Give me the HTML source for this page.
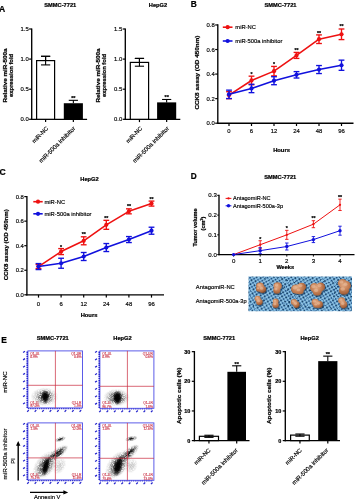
<!DOCTYPE html>
<html lang="en">
<head>
<meta charset="utf-8">
<title>Figure</title>
<style>
html,body{margin:0;padding:0;background:#fff;}
body{width:356px;height:502px;overflow:hidden;}
svg{display:block;font-family:"Liberation Sans",sans-serif;}
</style>
</head>
<body>
<svg width="356" height="502" viewBox="0 0 356 502">
<rect width="356" height="502" fill="#fff"/>
<text x="-0.9" y="11.5" font-size="8.6" text-anchor="start" font-weight="bold" fill="#000" stroke="#000" stroke-width="0.22" >A</text>
<line x1="31.7" y1="28.4" x2="31.7" y2="119.95" stroke="#000" stroke-width="1.35" />
<line x1="31.1" y1="119.3" x2="87.1" y2="119.3" stroke="#000" stroke-width="1.35" />
<line x1="29.1" y1="119.3" x2="31.7" y2="119.3" stroke="#000" stroke-width="1.2" />
<text x="28.7" y="121.35" font-size="5.9" text-anchor="end" font-weight="normal" fill="#000" stroke="#000" stroke-width="0.16" >0.0</text>
<line x1="29.1" y1="89.2" x2="31.7" y2="89.2" stroke="#000" stroke-width="1.2" />
<text x="28.7" y="91.25" font-size="5.9" text-anchor="end" font-weight="normal" fill="#000" stroke="#000" stroke-width="0.16" >0.5</text>
<line x1="29.1" y1="59.1" x2="31.7" y2="59.1" stroke="#000" stroke-width="1.2" />
<text x="28.7" y="61.15" font-size="5.9" text-anchor="end" font-weight="normal" fill="#000" stroke="#000" stroke-width="0.16" >1.0</text>
<line x1="29.1" y1="29" x2="31.7" y2="29" stroke="#000" stroke-width="1.2" />
<text x="28.7" y="31.05" font-size="5.9" text-anchor="end" font-weight="normal" fill="#000" stroke="#000" stroke-width="0.16" >1.5</text>
<line x1="45.6" y1="56.3" x2="45.6" y2="64.91" stroke="#000" stroke-width="1.1" />
<line x1="41" y1="56.3" x2="50.2" y2="56.3" stroke="#000" stroke-width="1.1" />
<line x1="41" y1="64.91" x2="50.2" y2="64.91" stroke="#000" stroke-width="1.1" />
<rect x="36.6" y="60.6" width="18" height="58.7" fill="#fff" stroke="#000" stroke-width="1.2"/>
<line x1="45.6" y1="56.3" x2="45.6" y2="64.91" stroke="#000" stroke-width="1.1" />
<line x1="41" y1="56.3" x2="50.2" y2="56.3" stroke="#000" stroke-width="1.1" />
<line x1="41" y1="64.91" x2="50.2" y2="64.91" stroke="#000" stroke-width="1.1" />
<line x1="45.6" y1="119.3" x2="45.6" y2="122.1" stroke="#000" stroke-width="1.2" />
<line x1="73.35" y1="100.33" x2="73.35" y2="103.23" stroke="#000" stroke-width="1.1" />
<line x1="68.75" y1="100.33" x2="77.95" y2="100.33" stroke="#000" stroke-width="1.1" />
<rect x="63.8" y="103.23" width="19.1" height="16.07" fill="#000"/>
<line x1="73.35" y1="119.3" x2="73.35" y2="122.1" stroke="#000" stroke-width="1.2" />
<text x="73.35" y="100.13" font-size="5.5" text-anchor="middle" font-weight="bold" fill="#000" stroke="#000" stroke-width="0.22" >**</text>
<text x="60.3" y="7.3" font-size="5.7" text-anchor="middle" font-weight="bold" fill="#000" stroke="#000" stroke-width="0.22" >SMMC-7721</text>
<text x="6.6" y="75.5" font-size="5.7" text-anchor="middle" font-weight="bold" fill="#000" stroke="#000" stroke-width="0.22" transform="rotate(-90 6.6 75.5)" textLength="54.2" lengthAdjust="spacingAndGlyphs">Relative miR-500a</text>
<text x="12.9" y="75.5" font-size="5.7" text-anchor="middle" font-weight="bold" fill="#000" stroke="#000" stroke-width="0.22" transform="rotate(-90 12.9 75.5)" textLength="43.2" lengthAdjust="spacingAndGlyphs">expression fold</text>
<text x="48.8" y="128.9" font-size="5.8" text-anchor="end" font-weight="normal" fill="#000" stroke="#000" stroke-width="0.16" transform="rotate(-45 48.8 128.9)" >miR-NC</text>
<text x="75.7" y="128.9" font-size="6" text-anchor="end" font-weight="normal" fill="#000" stroke="#000" stroke-width="0.16" transform="rotate(-45 75.7 128.9)" >miR-500a inhibitor</text>
<line x1="125.3" y1="28.4" x2="125.3" y2="119.95" stroke="#000" stroke-width="1.35" />
<line x1="124.7" y1="119.3" x2="180.3" y2="119.3" stroke="#000" stroke-width="1.35" />
<line x1="122.7" y1="119.3" x2="125.3" y2="119.3" stroke="#000" stroke-width="1.2" />
<text x="122.3" y="121.35" font-size="5.9" text-anchor="end" font-weight="normal" fill="#000" stroke="#000" stroke-width="0.16" >0.0</text>
<line x1="122.7" y1="89.2" x2="125.3" y2="89.2" stroke="#000" stroke-width="1.2" />
<text x="122.3" y="91.25" font-size="5.9" text-anchor="end" font-weight="normal" fill="#000" stroke="#000" stroke-width="0.16" >0.5</text>
<line x1="122.7" y1="59.1" x2="125.3" y2="59.1" stroke="#000" stroke-width="1.2" />
<text x="122.3" y="61.15" font-size="5.9" text-anchor="end" font-weight="normal" fill="#000" stroke="#000" stroke-width="0.16" >1.0</text>
<line x1="122.7" y1="29" x2="125.3" y2="29" stroke="#000" stroke-width="1.2" />
<text x="122.3" y="31.05" font-size="5.9" text-anchor="end" font-weight="normal" fill="#000" stroke="#000" stroke-width="0.16" >1.5</text>
<line x1="139.45" y1="58.41" x2="139.45" y2="66.21" stroke="#000" stroke-width="1.1" />
<line x1="134.85" y1="58.41" x2="144.05" y2="58.41" stroke="#000" stroke-width="1.1" />
<line x1="134.85" y1="66.21" x2="144.05" y2="66.21" stroke="#000" stroke-width="1.1" />
<rect x="130.3" y="62.41" width="18.3" height="56.89" fill="#fff" stroke="#000" stroke-width="1.2"/>
<line x1="139.45" y1="58.41" x2="139.45" y2="66.21" stroke="#000" stroke-width="1.1" />
<line x1="134.85" y1="58.41" x2="144.05" y2="58.41" stroke="#000" stroke-width="1.1" />
<line x1="134.85" y1="66.21" x2="144.05" y2="66.21" stroke="#000" stroke-width="1.1" />
<line x1="139.45" y1="119.3" x2="139.45" y2="122.1" stroke="#000" stroke-width="1.2" />
<line x1="166.65" y1="99.48" x2="166.65" y2="102.38" stroke="#000" stroke-width="1.1" />
<line x1="162.05" y1="99.48" x2="171.25" y2="99.48" stroke="#000" stroke-width="1.1" />
<rect x="157.1" y="102.38" width="19.1" height="16.92" fill="#000"/>
<line x1="166.65" y1="119.3" x2="166.65" y2="122.1" stroke="#000" stroke-width="1.2" />
<text x="166.65" y="99.28" font-size="5.5" text-anchor="middle" font-weight="bold" fill="#000" stroke="#000" stroke-width="0.22" >**</text>
<text x="158" y="7.3" font-size="5.7" text-anchor="middle" font-weight="bold" fill="#000" stroke="#000" stroke-width="0.22" >HepG2</text>
<text x="99.8" y="75.5" font-size="5.7" text-anchor="middle" font-weight="bold" fill="#000" stroke="#000" stroke-width="0.22" transform="rotate(-90 99.8 75.5)" textLength="54.2" lengthAdjust="spacingAndGlyphs">Relative miR-500a</text>
<text x="106" y="75.5" font-size="5.7" text-anchor="middle" font-weight="bold" fill="#000" stroke="#000" stroke-width="0.22" transform="rotate(-90 106 75.5)" textLength="43.2" lengthAdjust="spacingAndGlyphs">expression fold</text>
<text x="142.8" y="128.9" font-size="5.8" text-anchor="end" font-weight="normal" fill="#000" stroke="#000" stroke-width="0.16" transform="rotate(-45 142.8 128.9)" >miR-NC</text>
<text x="169.5" y="128.9" font-size="6" text-anchor="end" font-weight="normal" fill="#000" stroke="#000" stroke-width="0.16" transform="rotate(-45 169.5 128.9)" >miR-500a inhibitor</text>
<text x="190.8" y="7.2" font-size="8.4" text-anchor="start" font-weight="bold" fill="#000" stroke="#000" stroke-width="0.22" >B</text>
<line x1="217.8" y1="24.36" x2="217.8" y2="123.85" stroke="#000" stroke-width="1.35" />
<line x1="217.2" y1="123.2" x2="353.5" y2="123.2" stroke="#000" stroke-width="1.35" />
<line x1="215.2" y1="123.2" x2="217.8" y2="123.2" stroke="#000" stroke-width="1.2" />
<text x="214.8" y="125.3" font-size="5.9" text-anchor="end" font-weight="normal" fill="#000" stroke="#000" stroke-width="0.16" >0.0</text>
<line x1="215.2" y1="98.64" x2="217.8" y2="98.64" stroke="#000" stroke-width="1.2" />
<text x="214.8" y="100.74" font-size="5.9" text-anchor="end" font-weight="normal" fill="#000" stroke="#000" stroke-width="0.16" >0.2</text>
<line x1="215.2" y1="74.08" x2="217.8" y2="74.08" stroke="#000" stroke-width="1.2" />
<text x="214.8" y="76.18" font-size="5.9" text-anchor="end" font-weight="normal" fill="#000" stroke="#000" stroke-width="0.16" >0.4</text>
<line x1="215.2" y1="49.52" x2="217.8" y2="49.52" stroke="#000" stroke-width="1.2" />
<text x="214.8" y="51.62" font-size="5.9" text-anchor="end" font-weight="normal" fill="#000" stroke="#000" stroke-width="0.16" >0.6</text>
<line x1="215.2" y1="24.96" x2="217.8" y2="24.96" stroke="#000" stroke-width="1.2" />
<text x="214.8" y="27.06" font-size="5.9" text-anchor="end" font-weight="normal" fill="#000" stroke="#000" stroke-width="0.16" >0.8</text>
<line x1="229" y1="123.2" x2="229" y2="126" stroke="#000" stroke-width="1.2" />
<text x="229" y="132.6" font-size="5.9" text-anchor="middle" font-weight="normal" fill="#000" stroke="#000" stroke-width="0.16" >0</text>
<line x1="251.5" y1="123.2" x2="251.5" y2="126" stroke="#000" stroke-width="1.2" />
<text x="251.5" y="132.6" font-size="5.9" text-anchor="middle" font-weight="normal" fill="#000" stroke="#000" stroke-width="0.16" >6</text>
<line x1="274" y1="123.2" x2="274" y2="126" stroke="#000" stroke-width="1.2" />
<text x="274" y="132.6" font-size="5.9" text-anchor="middle" font-weight="normal" fill="#000" stroke="#000" stroke-width="0.16" >12</text>
<line x1="296.5" y1="123.2" x2="296.5" y2="126" stroke="#000" stroke-width="1.2" />
<text x="296.5" y="132.6" font-size="5.9" text-anchor="middle" font-weight="normal" fill="#000" stroke="#000" stroke-width="0.16" >24</text>
<line x1="319" y1="123.2" x2="319" y2="126" stroke="#000" stroke-width="1.2" />
<text x="319" y="132.6" font-size="5.9" text-anchor="middle" font-weight="normal" fill="#000" stroke="#000" stroke-width="0.16" >48</text>
<line x1="341.5" y1="123.2" x2="341.5" y2="126" stroke="#000" stroke-width="1.2" />
<text x="341.5" y="132.6" font-size="5.9" text-anchor="middle" font-weight="normal" fill="#000" stroke="#000" stroke-width="0.16" >96</text>
<line x1="229" y1="91.7" x2="229" y2="98.7" stroke="#ee1111" stroke-width="1.35" />
<line x1="226.1" y1="91.7" x2="231.9" y2="91.7" stroke="#ee1111" stroke-width="1.35" />
<line x1="226.1" y1="98.7" x2="231.9" y2="98.7" stroke="#ee1111" stroke-width="1.35" />
<line x1="251.5" y1="76.17" x2="251.5" y2="84.77" stroke="#ee1111" stroke-width="1.35" />
<line x1="248.6" y1="76.17" x2="254.4" y2="76.17" stroke="#ee1111" stroke-width="1.35" />
<line x1="248.6" y1="84.77" x2="254.4" y2="84.77" stroke="#ee1111" stroke-width="1.35" />
<line x1="274" y1="66.43" x2="274" y2="75.83" stroke="#ee1111" stroke-width="1.35" />
<line x1="271.1" y1="66.43" x2="276.9" y2="66.43" stroke="#ee1111" stroke-width="1.35" />
<line x1="271.1" y1="75.83" x2="276.9" y2="75.83" stroke="#ee1111" stroke-width="1.35" />
<line x1="296.5" y1="52.41" x2="296.5" y2="58.41" stroke="#ee1111" stroke-width="1.35" />
<line x1="293.6" y1="52.41" x2="299.4" y2="52.41" stroke="#ee1111" stroke-width="1.35" />
<line x1="293.6" y1="58.41" x2="299.4" y2="58.41" stroke="#ee1111" stroke-width="1.35" />
<line x1="319" y1="34.9" x2="319" y2="43.5" stroke="#ee1111" stroke-width="1.35" />
<line x1="316.1" y1="34.9" x2="321.9" y2="34.9" stroke="#ee1111" stroke-width="1.35" />
<line x1="316.1" y1="43.5" x2="321.9" y2="43.5" stroke="#ee1111" stroke-width="1.35" />
<line x1="341.5" y1="28.99" x2="341.5" y2="39.59" stroke="#ee1111" stroke-width="1.35" />
<line x1="338.6" y1="28.99" x2="344.4" y2="28.99" stroke="#ee1111" stroke-width="1.35" />
<line x1="338.6" y1="39.59" x2="344.4" y2="39.59" stroke="#ee1111" stroke-width="1.35" />
<polyline points="229,95.2 251.5,80.47 274,71.13 296.5,55.41 319,39.2 341.5,34.29" fill="none" stroke="#ee1111" stroke-width="1.6" stroke-linejoin="round"/>
<circle cx="229" cy="95.2" r="2.1" fill="#ee1111"/>
<circle cx="251.5" cy="80.47" r="2.1" fill="#ee1111"/>
<circle cx="274" cy="71.13" r="2.1" fill="#ee1111"/>
<circle cx="296.5" cy="55.41" r="2.1" fill="#ee1111"/>
<circle cx="319" cy="39.2" r="2.1" fill="#ee1111"/>
<circle cx="341.5" cy="34.29" r="2.1" fill="#ee1111"/>
<line x1="229" y1="90.14" x2="229" y2="98.54" stroke="#1111dd" stroke-width="1.35" />
<line x1="226.1" y1="90.14" x2="231.9" y2="90.14" stroke="#1111dd" stroke-width="1.35" />
<line x1="226.1" y1="98.54" x2="231.9" y2="98.54" stroke="#1111dd" stroke-width="1.35" />
<line x1="251.5" y1="84.25" x2="251.5" y2="92.65" stroke="#1111dd" stroke-width="1.35" />
<line x1="248.6" y1="84.25" x2="254.4" y2="84.25" stroke="#1111dd" stroke-width="1.35" />
<line x1="248.6" y1="92.65" x2="254.4" y2="92.65" stroke="#1111dd" stroke-width="1.35" />
<line x1="274" y1="76.71" x2="274" y2="84.71" stroke="#1111dd" stroke-width="1.35" />
<line x1="271.1" y1="76.71" x2="276.9" y2="76.71" stroke="#1111dd" stroke-width="1.35" />
<line x1="271.1" y1="84.71" x2="276.9" y2="84.71" stroke="#1111dd" stroke-width="1.35" />
<line x1="296.5" y1="71.62" x2="296.5" y2="78.02" stroke="#1111dd" stroke-width="1.35" />
<line x1="293.6" y1="71.62" x2="299.4" y2="71.62" stroke="#1111dd" stroke-width="1.35" />
<line x1="293.6" y1="78.02" x2="299.4" y2="78.02" stroke="#1111dd" stroke-width="1.35" />
<line x1="319" y1="65.54" x2="319" y2="73.54" stroke="#1111dd" stroke-width="1.35" />
<line x1="316.1" y1="65.54" x2="321.9" y2="65.54" stroke="#1111dd" stroke-width="1.35" />
<line x1="316.1" y1="73.54" x2="321.9" y2="73.54" stroke="#1111dd" stroke-width="1.35" />
<line x1="341.5" y1="60.14" x2="341.5" y2="70.34" stroke="#1111dd" stroke-width="1.35" />
<line x1="338.6" y1="60.14" x2="344.4" y2="60.14" stroke="#1111dd" stroke-width="1.35" />
<line x1="338.6" y1="70.34" x2="344.4" y2="70.34" stroke="#1111dd" stroke-width="1.35" />
<polyline points="229,94.34 251.5,88.45 274,80.71 296.5,74.82 319,69.54 341.5,65.24" fill="none" stroke="#1111dd" stroke-width="1.6" stroke-linejoin="round"/>
<circle cx="229" cy="94.34" r="2.1" fill="#1111dd"/>
<circle cx="251.5" cy="88.45" r="2.1" fill="#1111dd"/>
<circle cx="274" cy="80.71" r="2.1" fill="#1111dd"/>
<circle cx="296.5" cy="74.82" r="2.1" fill="#1111dd"/>
<circle cx="319" cy="69.54" r="2.1" fill="#1111dd"/>
<circle cx="341.5" cy="65.24" r="2.1" fill="#1111dd"/>
<text x="251.5" y="75.87" font-size="5.2" text-anchor="middle" font-weight="bold" fill="#000" stroke="#000" stroke-width="0.22" >*</text>
<text x="274" y="66.13" font-size="5.2" text-anchor="middle" font-weight="bold" fill="#000" stroke="#000" stroke-width="0.22" >*</text>
<text x="296.5" y="51.61" font-size="5.2" text-anchor="middle" font-weight="bold" fill="#000" stroke="#000" stroke-width="0.22" >**</text>
<text x="319" y="34.5" font-size="5.2" text-anchor="middle" font-weight="bold" fill="#000" stroke="#000" stroke-width="0.22" >**</text>
<text x="341.5" y="28.19" font-size="5.2" text-anchor="middle" font-weight="bold" fill="#000" stroke="#000" stroke-width="0.22" >**</text>
<text x="280.5" y="6.6" font-size="5.7" text-anchor="middle" font-weight="bold" fill="#000" stroke="#000" stroke-width="0.22" >SMMC-7721</text>
<text x="198.9" y="72.6" font-size="5.9" text-anchor="middle" font-weight="bold" fill="#000" stroke="#000" stroke-width="0.22" transform="rotate(-90 198.9 72.6)" textLength="74" lengthAdjust="spacingAndGlyphs">CCK8 assay (OD 450nm)</text>
<text x="281.5" y="151.5" font-size="5.8" text-anchor="middle" font-weight="bold" fill="#000" stroke="#000" stroke-width="0.22" >Hours</text>
<line x1="222.8" y1="27.2" x2="232.5" y2="27.2" stroke="#ee1111" stroke-width="1.6" />
<circle cx="227.65" cy="27.2" r="2.1" fill="#ee1111"/>
<text x="235.3" y="29.2" font-size="5.8" text-anchor="start" font-weight="normal" fill="#000" stroke="#000" stroke-width="0.16" >miR-NC</text>
<line x1="222.8" y1="41" x2="232.5" y2="41" stroke="#1111dd" stroke-width="1.6" />
<circle cx="227.65" cy="41" r="2.1" fill="#1111dd"/>
<text x="235.3" y="43" font-size="5.8" text-anchor="start" font-weight="normal" fill="#000" stroke="#000" stroke-width="0.16" >miR-500a inhibitor</text>
<text x="-0.6" y="175.4" font-size="8.6" text-anchor="start" font-weight="bold" fill="#000" stroke="#000" stroke-width="0.22" >C</text>
<line x1="26.9" y1="196" x2="26.9" y2="295.45" stroke="#000" stroke-width="1.35" />
<line x1="26.3" y1="294.8" x2="164" y2="294.8" stroke="#000" stroke-width="1.35" />
<line x1="24.3" y1="294.8" x2="26.9" y2="294.8" stroke="#000" stroke-width="1.2" />
<text x="23.9" y="296.9" font-size="5.9" text-anchor="end" font-weight="normal" fill="#000" stroke="#000" stroke-width="0.16" >0.0</text>
<line x1="24.3" y1="270.25" x2="26.9" y2="270.25" stroke="#000" stroke-width="1.2" />
<text x="23.9" y="272.35" font-size="5.9" text-anchor="end" font-weight="normal" fill="#000" stroke="#000" stroke-width="0.16" >0.2</text>
<line x1="24.3" y1="245.7" x2="26.9" y2="245.7" stroke="#000" stroke-width="1.2" />
<text x="23.9" y="247.8" font-size="5.9" text-anchor="end" font-weight="normal" fill="#000" stroke="#000" stroke-width="0.16" >0.4</text>
<line x1="24.3" y1="221.15" x2="26.9" y2="221.15" stroke="#000" stroke-width="1.2" />
<text x="23.9" y="223.25" font-size="5.9" text-anchor="end" font-weight="normal" fill="#000" stroke="#000" stroke-width="0.16" >0.6</text>
<line x1="24.3" y1="196.6" x2="26.9" y2="196.6" stroke="#000" stroke-width="1.2" />
<text x="23.9" y="198.7" font-size="5.9" text-anchor="end" font-weight="normal" fill="#000" stroke="#000" stroke-width="0.16" >0.8</text>
<line x1="38.5" y1="294.8" x2="38.5" y2="297.6" stroke="#000" stroke-width="1.2" />
<text x="38.5" y="305.6" font-size="5.9" text-anchor="middle" font-weight="normal" fill="#000" stroke="#000" stroke-width="0.16" >0</text>
<line x1="61.1" y1="294.8" x2="61.1" y2="297.6" stroke="#000" stroke-width="1.2" />
<text x="61.1" y="305.6" font-size="5.9" text-anchor="middle" font-weight="normal" fill="#000" stroke="#000" stroke-width="0.16" >6</text>
<line x1="83.7" y1="294.8" x2="83.7" y2="297.6" stroke="#000" stroke-width="1.2" />
<text x="83.7" y="305.6" font-size="5.9" text-anchor="middle" font-weight="normal" fill="#000" stroke="#000" stroke-width="0.16" >12</text>
<line x1="106.3" y1="294.8" x2="106.3" y2="297.6" stroke="#000" stroke-width="1.2" />
<text x="106.3" y="305.6" font-size="5.9" text-anchor="middle" font-weight="normal" fill="#000" stroke="#000" stroke-width="0.16" >24</text>
<line x1="128.9" y1="294.8" x2="128.9" y2="297.6" stroke="#000" stroke-width="1.2" />
<text x="128.9" y="305.6" font-size="5.9" text-anchor="middle" font-weight="normal" fill="#000" stroke="#000" stroke-width="0.16" >48</text>
<line x1="151.5" y1="294.8" x2="151.5" y2="297.6" stroke="#000" stroke-width="1.2" />
<text x="151.5" y="305.6" font-size="5.9" text-anchor="middle" font-weight="normal" fill="#000" stroke="#000" stroke-width="0.16" >96</text>
<line x1="38.5" y1="264.57" x2="38.5" y2="268.57" stroke="#ee1111" stroke-width="1.35" />
<line x1="35.6" y1="264.57" x2="41.4" y2="264.57" stroke="#ee1111" stroke-width="1.35" />
<line x1="35.6" y1="268.57" x2="41.4" y2="268.57" stroke="#ee1111" stroke-width="1.35" />
<line x1="61.1" y1="248.59" x2="61.1" y2="254.59" stroke="#ee1111" stroke-width="1.35" />
<line x1="58.2" y1="248.59" x2="64" y2="248.59" stroke="#ee1111" stroke-width="1.35" />
<line x1="58.2" y1="254.59" x2="64" y2="254.59" stroke="#ee1111" stroke-width="1.35" />
<line x1="83.7" y1="236.79" x2="83.7" y2="244.79" stroke="#ee1111" stroke-width="1.35" />
<line x1="80.8" y1="236.79" x2="86.6" y2="236.79" stroke="#ee1111" stroke-width="1.35" />
<line x1="80.8" y1="244.79" x2="86.6" y2="244.79" stroke="#ee1111" stroke-width="1.35" />
<line x1="106.3" y1="220.33" x2="106.3" y2="229.33" stroke="#ee1111" stroke-width="1.35" />
<line x1="103.4" y1="220.33" x2="109.2" y2="220.33" stroke="#ee1111" stroke-width="1.35" />
<line x1="103.4" y1="229.33" x2="109.2" y2="229.33" stroke="#ee1111" stroke-width="1.35" />
<line x1="128.9" y1="208.83" x2="128.9" y2="213.83" stroke="#ee1111" stroke-width="1.35" />
<line x1="126" y1="208.83" x2="131.8" y2="208.83" stroke="#ee1111" stroke-width="1.35" />
<line x1="126" y1="213.83" x2="131.8" y2="213.83" stroke="#ee1111" stroke-width="1.35" />
<line x1="151.5" y1="201.1" x2="151.5" y2="206.1" stroke="#ee1111" stroke-width="1.35" />
<line x1="148.6" y1="201.1" x2="154.4" y2="201.1" stroke="#ee1111" stroke-width="1.35" />
<line x1="148.6" y1="206.1" x2="154.4" y2="206.1" stroke="#ee1111" stroke-width="1.35" />
<polyline points="38.5,266.57 61.1,251.59 83.7,240.79 106.3,224.83 128.9,211.33 151.5,203.6" fill="none" stroke="#ee1111" stroke-width="1.6" stroke-linejoin="round"/>
<circle cx="38.5" cy="266.57" r="2.1" fill="#ee1111"/>
<circle cx="61.1" cy="251.59" r="2.1" fill="#ee1111"/>
<circle cx="83.7" cy="240.79" r="2.1" fill="#ee1111"/>
<circle cx="106.3" cy="224.83" r="2.1" fill="#ee1111"/>
<circle cx="128.9" cy="211.33" r="2.1" fill="#ee1111"/>
<circle cx="151.5" cy="203.6" r="2.1" fill="#ee1111"/>
<line x1="38.5" y1="263.57" x2="38.5" y2="269.57" stroke="#1111dd" stroke-width="1.35" />
<line x1="35.6" y1="263.57" x2="41.4" y2="263.57" stroke="#1111dd" stroke-width="1.35" />
<line x1="35.6" y1="269.57" x2="41.4" y2="269.57" stroke="#1111dd" stroke-width="1.35" />
<line x1="61.1" y1="258.25" x2="61.1" y2="268.25" stroke="#1111dd" stroke-width="1.35" />
<line x1="58.2" y1="258.25" x2="64" y2="258.25" stroke="#1111dd" stroke-width="1.35" />
<line x1="58.2" y1="268.25" x2="64" y2="268.25" stroke="#1111dd" stroke-width="1.35" />
<line x1="83.7" y1="252.5" x2="83.7" y2="260.5" stroke="#1111dd" stroke-width="1.35" />
<line x1="80.8" y1="252.5" x2="86.6" y2="252.5" stroke="#1111dd" stroke-width="1.35" />
<line x1="80.8" y1="260.5" x2="86.6" y2="260.5" stroke="#1111dd" stroke-width="1.35" />
<line x1="106.3" y1="243.54" x2="106.3" y2="251.54" stroke="#1111dd" stroke-width="1.35" />
<line x1="103.4" y1="243.54" x2="109.2" y2="243.54" stroke="#1111dd" stroke-width="1.35" />
<line x1="103.4" y1="251.54" x2="109.2" y2="251.54" stroke="#1111dd" stroke-width="1.35" />
<line x1="128.9" y1="236.56" x2="128.9" y2="242.56" stroke="#1111dd" stroke-width="1.35" />
<line x1="126" y1="236.56" x2="131.8" y2="236.56" stroke="#1111dd" stroke-width="1.35" />
<line x1="126" y1="242.56" x2="131.8" y2="242.56" stroke="#1111dd" stroke-width="1.35" />
<line x1="151.5" y1="227.22" x2="151.5" y2="234.22" stroke="#1111dd" stroke-width="1.35" />
<line x1="148.6" y1="227.22" x2="154.4" y2="227.22" stroke="#1111dd" stroke-width="1.35" />
<line x1="148.6" y1="234.22" x2="154.4" y2="234.22" stroke="#1111dd" stroke-width="1.35" />
<polyline points="38.5,266.57 61.1,263.25 83.7,256.5 106.3,247.54 128.9,239.56 151.5,230.72" fill="none" stroke="#1111dd" stroke-width="1.6" stroke-linejoin="round"/>
<circle cx="38.5" cy="266.57" r="2.1" fill="#1111dd"/>
<circle cx="61.1" cy="263.25" r="2.1" fill="#1111dd"/>
<circle cx="83.7" cy="256.5" r="2.1" fill="#1111dd"/>
<circle cx="106.3" cy="247.54" r="2.1" fill="#1111dd"/>
<circle cx="128.9" cy="239.56" r="2.1" fill="#1111dd"/>
<circle cx="151.5" cy="230.72" r="2.1" fill="#1111dd"/>
<text x="61.1" y="248.59" font-size="5.2" text-anchor="middle" font-weight="bold" fill="#000" stroke="#000" stroke-width="0.22" >*</text>
<text x="83.7" y="236.49" font-size="5.2" text-anchor="middle" font-weight="bold" fill="#000" stroke="#000" stroke-width="0.22" >**</text>
<text x="106.3" y="220.03" font-size="5.2" text-anchor="middle" font-weight="bold" fill="#000" stroke="#000" stroke-width="0.22" >**</text>
<text x="128.9" y="208.33" font-size="5.2" text-anchor="middle" font-weight="bold" fill="#000" stroke="#000" stroke-width="0.22" >**</text>
<text x="151.5" y="200.6" font-size="5.2" text-anchor="middle" font-weight="bold" fill="#000" stroke="#000" stroke-width="0.22" >**</text>
<text x="89.5" y="180.6" font-size="5.7" text-anchor="middle" font-weight="bold" fill="#000" stroke="#000" stroke-width="0.22" >HepG2</text>
<text x="7.6" y="244.8" font-size="5.8" text-anchor="middle" font-weight="bold" fill="#000" stroke="#000" stroke-width="0.22" transform="rotate(-90 7.6 244.8)" textLength="71" lengthAdjust="spacingAndGlyphs">CCK8 assay (OD 450nm)</text>
<text x="89" y="317.4" font-size="5.8" text-anchor="middle" font-weight="bold" fill="#000" stroke="#000" stroke-width="0.22" >Hours</text>
<line x1="33.3" y1="201.7" x2="42.7" y2="201.7" stroke="#ee1111" stroke-width="1.6" />
<circle cx="38" cy="201.7" r="2.1" fill="#ee1111"/>
<text x="44.5" y="203.7" font-size="5.8" text-anchor="start" font-weight="normal" fill="#000" stroke="#000" stroke-width="0.16" >miR-NC</text>
<line x1="33.3" y1="213.8" x2="42.7" y2="213.8" stroke="#1111dd" stroke-width="1.6" />
<circle cx="38" cy="213.8" r="2.1" fill="#1111dd"/>
<text x="44.5" y="215.8" font-size="5.8" text-anchor="start" font-weight="normal" fill="#000" stroke="#000" stroke-width="0.16" >miR-500a inhibitor</text>
<text x="190.8" y="179.3" font-size="8.2" text-anchor="start" font-weight="bold" fill="#000" stroke="#000" stroke-width="0.22" >D</text>
<line x1="219" y1="194.75" x2="219" y2="255.25" stroke="#000" stroke-width="1.35" />
<line x1="218.4" y1="254.6" x2="354.5" y2="254.6" stroke="#000" stroke-width="1.35" />
<line x1="217.2" y1="254.6" x2="219" y2="254.6" stroke="#000" stroke-width="0.95" />
<text x="216.8" y="256.7" font-size="6.1" text-anchor="end" font-weight="normal" fill="#000" stroke="#000" stroke-width="0.16" >0.0</text>
<line x1="217.2" y1="234.85" x2="219" y2="234.85" stroke="#000" stroke-width="0.95" />
<text x="216.8" y="236.95" font-size="6.1" text-anchor="end" font-weight="normal" fill="#000" stroke="#000" stroke-width="0.16" >0.1</text>
<line x1="217.2" y1="215.1" x2="219" y2="215.1" stroke="#000" stroke-width="0.95" />
<text x="216.8" y="217.2" font-size="6.1" text-anchor="end" font-weight="normal" fill="#000" stroke="#000" stroke-width="0.16" >0.2</text>
<line x1="217.2" y1="195.35" x2="219" y2="195.35" stroke="#000" stroke-width="0.95" />
<text x="216.8" y="197.45" font-size="6.1" text-anchor="end" font-weight="normal" fill="#000" stroke="#000" stroke-width="0.16" >0.3</text>
<line x1="233.6" y1="254.6" x2="233.6" y2="256.6" stroke="#000" stroke-width="0.95" />
<text x="233.6" y="262.6" font-size="6.1" text-anchor="middle" font-weight="normal" fill="#000" stroke="#000" stroke-width="0.16" >0</text>
<line x1="260.2" y1="254.6" x2="260.2" y2="256.6" stroke="#000" stroke-width="0.95" />
<text x="260.2" y="262.6" font-size="6.1" text-anchor="middle" font-weight="normal" fill="#000" stroke="#000" stroke-width="0.16" >1</text>
<line x1="286.8" y1="254.6" x2="286.8" y2="256.6" stroke="#000" stroke-width="0.95" />
<text x="286.8" y="262.6" font-size="6.1" text-anchor="middle" font-weight="normal" fill="#000" stroke="#000" stroke-width="0.16" >2</text>
<line x1="313.4" y1="254.6" x2="313.4" y2="256.6" stroke="#000" stroke-width="0.95" />
<text x="313.4" y="262.6" font-size="6.1" text-anchor="middle" font-weight="normal" fill="#000" stroke="#000" stroke-width="0.16" >3</text>
<line x1="340" y1="254.6" x2="340" y2="256.6" stroke="#000" stroke-width="0.95" />
<text x="340" y="262.6" font-size="6.1" text-anchor="middle" font-weight="normal" fill="#000" stroke="#000" stroke-width="0.16" >4</text>
<line x1="260.2" y1="240.72" x2="260.2" y2="248.72" stroke="#ee1111" stroke-width="0.9" />
<line x1="258.5" y1="240.72" x2="261.9" y2="240.72" stroke="#ee1111" stroke-width="0.9" />
<line x1="258.5" y1="248.72" x2="261.9" y2="248.72" stroke="#ee1111" stroke-width="0.9" />
<line x1="286.8" y1="230.35" x2="286.8" y2="239.35" stroke="#ee1111" stroke-width="0.9" />
<line x1="285.1" y1="230.35" x2="288.5" y2="230.35" stroke="#ee1111" stroke-width="0.9" />
<line x1="285.1" y1="239.35" x2="288.5" y2="239.35" stroke="#ee1111" stroke-width="0.9" />
<line x1="313.4" y1="220.69" x2="313.4" y2="227.69" stroke="#ee1111" stroke-width="0.9" />
<line x1="311.7" y1="220.69" x2="315.1" y2="220.69" stroke="#ee1111" stroke-width="0.9" />
<line x1="311.7" y1="227.69" x2="315.1" y2="227.69" stroke="#ee1111" stroke-width="0.9" />
<line x1="340" y1="199.13" x2="340" y2="210.53" stroke="#ee1111" stroke-width="0.9" />
<line x1="338.3" y1="199.13" x2="341.7" y2="199.13" stroke="#ee1111" stroke-width="0.9" />
<line x1="338.3" y1="210.53" x2="341.7" y2="210.53" stroke="#ee1111" stroke-width="0.9" />
<polyline points="233.6,254.6 260.2,244.72 286.8,234.85 313.4,224.19 340,204.83" fill="none" stroke="#ee1111" stroke-width="1" stroke-linejoin="round"/>
<circle cx="233.6" cy="254.6" r="1.15" fill="#ee1111"/>
<circle cx="260.2" cy="244.72" r="1.15" fill="#ee1111"/>
<circle cx="286.8" cy="234.85" r="1.15" fill="#ee1111"/>
<circle cx="313.4" cy="224.19" r="1.15" fill="#ee1111"/>
<circle cx="340" cy="204.83" r="1.15" fill="#ee1111"/>
<line x1="260.2" y1="247.65" x2="260.2" y2="253.65" stroke="#1111dd" stroke-width="0.9" />
<line x1="258.5" y1="247.65" x2="261.9" y2="247.65" stroke="#1111dd" stroke-width="0.9" />
<line x1="258.5" y1="253.65" x2="261.9" y2="253.65" stroke="#1111dd" stroke-width="0.9" />
<line x1="286.8" y1="243" x2="286.8" y2="250" stroke="#1111dd" stroke-width="0.9" />
<line x1="285.1" y1="243" x2="288.5" y2="243" stroke="#1111dd" stroke-width="0.9" />
<line x1="285.1" y1="250" x2="288.5" y2="250" stroke="#1111dd" stroke-width="0.9" />
<line x1="313.4" y1="236.59" x2="313.4" y2="242.59" stroke="#1111dd" stroke-width="0.9" />
<line x1="311.7" y1="236.59" x2="315.1" y2="236.59" stroke="#1111dd" stroke-width="0.9" />
<line x1="311.7" y1="242.59" x2="315.1" y2="242.59" stroke="#1111dd" stroke-width="0.9" />
<line x1="340" y1="226.2" x2="340" y2="235.2" stroke="#1111dd" stroke-width="0.9" />
<line x1="338.3" y1="226.2" x2="341.7" y2="226.2" stroke="#1111dd" stroke-width="0.9" />
<line x1="338.3" y1="235.2" x2="341.7" y2="235.2" stroke="#1111dd" stroke-width="0.9" />
<polyline points="233.6,254.6 260.2,250.65 286.8,246.5 313.4,239.59 340,230.7" fill="none" stroke="#1111dd" stroke-width="1" stroke-linejoin="round"/>
<circle cx="233.6" cy="254.6" r="1.7" fill="#1111dd"/>
<circle cx="260.2" cy="250.65" r="1.7" fill="#1111dd"/>
<circle cx="286.8" cy="246.5" r="1.7" fill="#1111dd"/>
<circle cx="313.4" cy="239.59" r="1.7" fill="#1111dd"/>
<circle cx="340" cy="230.7" r="1.7" fill="#1111dd"/>
<text x="260.2" y="240.72" font-size="5.2" text-anchor="middle" font-weight="bold" fill="#000" stroke="#000" stroke-width="0.22" >*</text>
<text x="286.8" y="230.35" font-size="5.2" text-anchor="middle" font-weight="bold" fill="#000" stroke="#000" stroke-width="0.22" >*</text>
<text x="313.4" y="220.38" font-size="5.2" text-anchor="middle" font-weight="bold" fill="#000" stroke="#000" stroke-width="0.22" >**</text>
<text x="340" y="198.63" font-size="5.2" text-anchor="middle" font-weight="bold" fill="#000" stroke="#000" stroke-width="0.22" >**</text>
<text x="280.3" y="178.8" font-size="5.7" text-anchor="middle" font-weight="bold" fill="#000" stroke="#000" stroke-width="0.22" >SMMC-7721</text>
<text x="196.9" y="227.5" font-size="5.6" text-anchor="middle" font-weight="bold" fill="#000" stroke="#000" stroke-width="0.22" transform="rotate(-90 196.9 227.5)" >Tumor volume</text>
<text x="204.5" y="223.5" font-size="5.6" text-anchor="middle" font-weight="bold" fill="#000" stroke="#000" stroke-width="0.22" transform="rotate(-90 204.5 223.5)" >(cm<tspan baseline-shift="super" font-size="3.6">3</tspan>)</text>
<text x="285.2" y="269" font-size="5.6" text-anchor="middle" font-weight="bold" fill="#000" stroke="#000" stroke-width="0.22" >Weeks</text>
<line x1="225.6" y1="198.4" x2="231.4" y2="198.4" stroke="#ee1111" stroke-width="1" />
<circle cx="228.5" cy="198.4" r="1.15" fill="#ee1111"/>
<text x="233" y="200.4" font-size="5.6" text-anchor="start" font-weight="normal" fill="#000" stroke="#000" stroke-width="0.16" >AntagomiR-NC</text>
<line x1="225.6" y1="205.8" x2="231.4" y2="205.8" stroke="#1111dd" stroke-width="1" />
<circle cx="228.5" cy="205.8" r="1.7" fill="#1111dd"/>
<text x="233" y="207.8" font-size="5.6" text-anchor="start" font-weight="normal" fill="#000" stroke="#000" stroke-width="0.16" >AntagomiR-500a-3p</text>
<defs>
<pattern id="cloth" width="4.2" height="4.2" patternUnits="userSpaceOnUse" patternTransform="rotate(14)"><rect width="4.2" height="4.2" fill="#7db8df"/><circle cx="1.05" cy="1.05" r="0.95" fill="#123a62"/><circle cx="3.15" cy="3.15" r="0.9" fill="#18457a"/><circle cx="3.15" cy="1.05" r="0.7" fill="#a8d6f0"/><circle cx="1.05" cy="3.15" r="0.7" fill="#a0d0ec"/></pattern>
<radialGradient id="tum" cx="40%" cy="36%" r="72%"><stop offset="0" stop-color="#e9bf9f"/><stop offset="0.4" stop-color="#cf976e"/><stop offset="0.8" stop-color="#b0744c"/><stop offset="1" stop-color="#8d5636"/></radialGradient>
<filter id="b03" x="-20%" y="-20%" width="140%" height="140%"><feGaussianBlur stdDeviation="0.32"/></filter>
<filter id="b05" x="-20%" y="-20%" width="140%" height="140%"><feGaussianBlur stdDeviation="0.5"/></filter>
<filter id="clothf" x="0" y="0" width="100%" height="100%"><feTurbulence type="fractalNoise" baseFrequency="0.3" numOctaves="2" seed="3" result="n"/><feDisplacementMap in="SourceGraphic" in2="n" scale="2.2" xChannelSelector="R" yChannelSelector="G" result="d"/><feGaussianBlur in="d" stdDeviation="0.3"/></filter>
<filter id="b06" x="-20%" y="-20%" width="140%" height="140%"><feGaussianBlur stdDeviation="0.8"/></filter>
<clipPath id="pclip"><rect x="248.4" y="276.4" width="103.6" height="34.9"/></clipPath>
</defs>
<g clip-path="url(#pclip)">
<rect x="247.4" y="275.4" width="105.6" height="36.9" fill="url(#cloth)" filter="url(#clothf)"/>
<g filter="url(#b05)" opacity="0.6">
<ellipse cx="260.7" cy="287" rx="4.2" ry="3.9" fill="#143452"/>
<ellipse cx="263.2" cy="290.5" rx="3.9" ry="3.7" fill="#143452"/>
<ellipse cx="259.3" cy="290" rx="2.9" ry="2.9" fill="#143452"/>
<ellipse cx="278.3" cy="287" rx="4.5" ry="4" fill="#143452"/>
<ellipse cx="277.5" cy="291.2" rx="3.8" ry="3.9" fill="#143452"/>
<ellipse cx="296.7" cy="290" rx="5.3" ry="4.9" fill="#143452"/>
<ellipse cx="302.2" cy="287.8" rx="4.9" ry="4.3" fill="#143452"/>
<ellipse cx="300.2" cy="292" rx="4.5" ry="3.5" fill="#143452"/>
<ellipse cx="315.1" cy="288.6" rx="4.7" ry="4.9" fill="#143452"/>
<ellipse cx="321.3" cy="287.9" rx="4.7" ry="4.7" fill="#143452"/>
<ellipse cx="317.9" cy="292.6" rx="4.9" ry="4.3" fill="#143452"/>
<ellipse cx="343.2" cy="284.2" rx="4.9" ry="4.5" fill="#143452"/>
<ellipse cx="347.3" cy="286.5" rx="4.5" ry="4.7" fill="#143452"/>
<ellipse cx="344.7" cy="291.4" rx="5.3" ry="4.7" fill="#143452"/>
<ellipse cx="258.3" cy="299.6" rx="3.3" ry="3.2" fill="#143452"/>
<ellipse cx="260.1" cy="303" rx="3.6" ry="3.4" fill="#143452"/>
<ellipse cx="276.4" cy="302.2" rx="3.2" ry="2.9" fill="#143452"/>
<ellipse cx="276.3" cy="306" rx="3.5" ry="3.2" fill="#143452"/>
<ellipse cx="294.7" cy="303" rx="3.5" ry="3.3" fill="#143452"/>
<ellipse cx="297.1" cy="305.6" rx="3.5" ry="3.7" fill="#143452"/>
<ellipse cx="315.9" cy="303.2" rx="3.9" ry="3.7" fill="#143452"/>
<ellipse cx="320.1" cy="305.4" rx="3.8" ry="3.7" fill="#143452"/>
<ellipse cx="317.2" cy="306.2" rx="3.7" ry="2.9" fill="#143452"/>
<ellipse cx="342.3" cy="301.4" rx="3.7" ry="3.5" fill="#143452"/>
<ellipse cx="344.3" cy="305.6" rx="3.9" ry="4.1" fill="#143452"/>
</g>
<g filter="url(#b03)">
<radialGradient id="tg0" gradientUnits="userSpaceOnUse" cx="260.24" cy="286.39" r="7.14"><stop offset="0" stop-color="#e2ac86"/><stop offset="0.45" stop-color="#c88358"/><stop offset="0.8" stop-color="#a8643c"/><stop offset="1" stop-color="#764024"/></radialGradient>
<ellipse cx="260" cy="286" rx="3.9" ry="3.6" fill="url(#tg0)"/>
<ellipse cx="262.5" cy="289.5" rx="3.6" ry="3.4" fill="url(#tg0)"/>
<ellipse cx="258.6" cy="289" rx="2.6" ry="2.6" fill="url(#tg0)"/>
<radialGradient id="tg1" gradientUnits="userSpaceOnUse" cx="276.87" cy="286.67" r="7.82"><stop offset="0" stop-color="#e2ac86"/><stop offset="0.45" stop-color="#c88358"/><stop offset="0.8" stop-color="#a8643c"/><stop offset="1" stop-color="#764024"/></radialGradient>
<ellipse cx="277.6" cy="286" rx="4.2" ry="3.7" fill="url(#tg1)"/>
<ellipse cx="276.8" cy="290.2" rx="3.5" ry="3.6" fill="url(#tg1)"/>
<radialGradient id="tg2" gradientUnits="userSpaceOnUse" cx="297.34" cy="287.13" r="10.27"><stop offset="0" stop-color="#e2ac86"/><stop offset="0.45" stop-color="#c88358"/><stop offset="0.8" stop-color="#a8643c"/><stop offset="1" stop-color="#764024"/></radialGradient>
<ellipse cx="296" cy="289" rx="5" ry="4.6" fill="url(#tg2)"/>
<ellipse cx="301.5" cy="286.8" rx="4.6" ry="4" fill="url(#tg2)"/>
<ellipse cx="299.5" cy="291" rx="4.2" ry="3.2" fill="url(#tg2)"/>
<radialGradient id="tg3" gradientUnits="userSpaceOnUse" cx="316.3" cy="287.48" r="10.2"><stop offset="0" stop-color="#e2ac86"/><stop offset="0.45" stop-color="#c88358"/><stop offset="0.8" stop-color="#a8643c"/><stop offset="1" stop-color="#764024"/></radialGradient>
<ellipse cx="314.4" cy="287.6" rx="4.4" ry="4.6" fill="url(#tg3)"/>
<ellipse cx="320.6" cy="286.9" rx="4.4" ry="4.4" fill="url(#tg3)"/>
<ellipse cx="317.2" cy="291.6" rx="4.6" ry="4" fill="url(#tg3)"/>
<radialGradient id="tg4" gradientUnits="userSpaceOnUse" cx="343.32" cy="285" r="10.74"><stop offset="0" stop-color="#e2ac86"/><stop offset="0.45" stop-color="#c88358"/><stop offset="0.8" stop-color="#a8643c"/><stop offset="1" stop-color="#764024"/></radialGradient>
<ellipse cx="342.5" cy="283.2" rx="4.6" ry="4.2" fill="url(#tg4)"/>
<ellipse cx="346.6" cy="285.5" rx="4.2" ry="4.4" fill="url(#tg4)"/>
<ellipse cx="344" cy="290.4" rx="5" ry="4.4" fill="url(#tg4)"/>
<radialGradient id="tg5" gradientUnits="userSpaceOnUse" cx="258" cy="299.27" r="6.39"><stop offset="0" stop-color="#e2ac86"/><stop offset="0.45" stop-color="#c88358"/><stop offset="0.8" stop-color="#a8643c"/><stop offset="1" stop-color="#764024"/></radialGradient>
<ellipse cx="257.6" cy="298.6" rx="3" ry="2.9" fill="url(#tg5)"/>
<ellipse cx="259.4" cy="302" rx="3.3" ry="3.1" fill="url(#tg5)"/>
<radialGradient id="tg6" gradientUnits="userSpaceOnUse" cx="275.09" cy="302.13" r="6.32"><stop offset="0" stop-color="#e2ac86"/><stop offset="0.45" stop-color="#c88358"/><stop offset="0.8" stop-color="#a8643c"/><stop offset="1" stop-color="#764024"/></radialGradient>
<ellipse cx="275.7" cy="301.2" rx="2.9" ry="2.6" fill="url(#tg6)"/>
<ellipse cx="275.6" cy="305" rx="3.2" ry="2.9" fill="url(#tg6)"/>
<radialGradient id="tg7" gradientUnits="userSpaceOnUse" cx="294.5" cy="302.42" r="6.12"><stop offset="0" stop-color="#e2ac86"/><stop offset="0.45" stop-color="#c88358"/><stop offset="0.8" stop-color="#a8643c"/><stop offset="1" stop-color="#764024"/></radialGradient>
<ellipse cx="294" cy="302" rx="3.2" ry="3" fill="url(#tg7)"/>
<ellipse cx="296.4" cy="304.6" rx="3.2" ry="3.4" fill="url(#tg7)"/>
<radialGradient id="tg8" gradientUnits="userSpaceOnUse" cx="316.35" cy="302.22" r="7.68"><stop offset="0" stop-color="#e2ac86"/><stop offset="0.45" stop-color="#c88358"/><stop offset="0.8" stop-color="#a8643c"/><stop offset="1" stop-color="#764024"/></radialGradient>
<ellipse cx="315.2" cy="302.2" rx="3.6" ry="3.4" fill="url(#tg8)"/>
<ellipse cx="319.4" cy="304.4" rx="3.5" ry="3.4" fill="url(#tg8)"/>
<ellipse cx="316.5" cy="305.2" rx="3.4" ry="2.6" fill="url(#tg8)"/>
<radialGradient id="tg9" gradientUnits="userSpaceOnUse" cx="341.98" cy="301.46" r="7.62"><stop offset="0" stop-color="#e2ac86"/><stop offset="0.45" stop-color="#c88358"/><stop offset="0.8" stop-color="#a8643c"/><stop offset="1" stop-color="#764024"/></radialGradient>
<ellipse cx="341.6" cy="300.4" rx="3.4" ry="3.2" fill="url(#tg9)"/>
<ellipse cx="343.6" cy="304.6" rx="3.6" ry="3.8" fill="url(#tg9)"/>
</g>
<g filter="url(#b05)">
<ellipse cx="259.02" cy="284.92" rx="1.75" ry="1.44" fill="#eec6a8" opacity="0.5"/>
<ellipse cx="261.6" cy="288.48" rx="1.62" ry="1.36" fill="#eec6a8" opacity="0.5"/>
<ellipse cx="257.95" cy="288.22" rx="1.17" ry="1.04" fill="#eec6a8" opacity="0.5"/>
<ellipse cx="276.55" cy="284.89" rx="1.89" ry="1.48" fill="#eec6a8" opacity="0.5"/>
<ellipse cx="275.93" cy="289.12" rx="1.57" ry="1.44" fill="#eec6a8" opacity="0.5"/>
<ellipse cx="294.75" cy="287.62" rx="2.25" ry="1.84" fill="#eec6a8" opacity="0.5"/>
<ellipse cx="300.35" cy="285.6" rx="2.07" ry="1.6" fill="#eec6a8" opacity="0.5"/>
<ellipse cx="298.45" cy="290.04" rx="1.89" ry="1.28" fill="#eec6a8" opacity="0.5"/>
<ellipse cx="313.3" cy="286.22" rx="1.98" ry="1.84" fill="#eec6a8" opacity="0.5"/>
<ellipse cx="319.5" cy="285.58" rx="1.98" ry="1.76" fill="#eec6a8" opacity="0.5"/>
<ellipse cx="316.05" cy="290.4" rx="2.07" ry="1.6" fill="#eec6a8" opacity="0.5"/>
<ellipse cx="341.35" cy="281.94" rx="2.07" ry="1.68" fill="#eec6a8" opacity="0.5"/>
<ellipse cx="345.55" cy="284.18" rx="1.89" ry="1.76" fill="#eec6a8" opacity="0.5"/>
<ellipse cx="342.75" cy="289.08" rx="2.25" ry="1.76" fill="#eec6a8" opacity="0.5"/>
<ellipse cx="256.85" cy="297.73" rx="1.35" ry="1.16" fill="#eec6a8" opacity="0.5"/>
<ellipse cx="258.57" cy="301.07" rx="1.48" ry="1.24" fill="#eec6a8" opacity="0.5"/>
<ellipse cx="274.97" cy="300.42" rx="1.3" ry="1.04" fill="#eec6a8" opacity="0.5"/>
<ellipse cx="274.8" cy="304.13" rx="1.44" ry="1.16" fill="#eec6a8" opacity="0.5"/>
<ellipse cx="293.2" cy="301.1" rx="1.44" ry="1.2" fill="#eec6a8" opacity="0.5"/>
<ellipse cx="295.6" cy="303.58" rx="1.44" ry="1.36" fill="#eec6a8" opacity="0.5"/>
<ellipse cx="314.3" cy="301.18" rx="1.62" ry="1.36" fill="#eec6a8" opacity="0.5"/>
<ellipse cx="318.52" cy="303.38" rx="1.57" ry="1.36" fill="#eec6a8" opacity="0.5"/>
<ellipse cx="315.65" cy="304.42" rx="1.53" ry="1.04" fill="#eec6a8" opacity="0.5"/>
<ellipse cx="340.75" cy="299.44" rx="1.53" ry="1.28" fill="#eec6a8" opacity="0.5"/>
<ellipse cx="342.7" cy="303.46" rx="1.62" ry="1.52" fill="#eec6a8" opacity="0.5"/>
</g>
</g>
<text x="195.8" y="288.6" font-size="5.8" text-anchor="start" font-weight="normal" fill="#000" stroke="#000" stroke-width="0.16" >AntagomiR-NC</text>
<text x="195.8" y="303" font-size="5.7" text-anchor="start" font-weight="normal" fill="#000" stroke="#000" stroke-width="0.16" >AntagomiR-500a-3p</text>
<text x="1.2" y="342.8" font-size="8.4" text-anchor="start" font-weight="bold" fill="#000" stroke="#000" stroke-width="0.22" >E</text>
<text x="52.8" y="340" font-size="5.7" text-anchor="middle" font-weight="bold" fill="#000" stroke="#000" stroke-width="0.22" >SMMC-7721</text>
<text x="122.5" y="340" font-size="5.7" text-anchor="middle" font-weight="bold" fill="#000" stroke="#000" stroke-width="0.22" >HepG2</text>
<text x="7.4" y="382.2" font-size="5.7" text-anchor="middle" font-weight="normal" fill="#000" stroke="#000" stroke-width="0.16" transform="rotate(-90 7.4 382.2)" textLength="21.3" lengthAdjust="spacingAndGlyphs">miR-NC</text>
<text x="7.4" y="454" font-size="5.9" text-anchor="middle" font-weight="normal" fill="#000" stroke="#000" stroke-width="0.16" transform="rotate(-90 7.4 454)" textLength="51.0" lengthAdjust="spacingAndGlyphs">miR-500a inhibitor</text>
<text x="14.6" y="461" font-size="5.8" text-anchor="middle" font-weight="normal" fill="#000" stroke="#000" stroke-width="0.16" transform="rotate(-90 14.6 461)" >PI</text>
<text x="47.2" y="498.7" font-size="5.8" text-anchor="middle" font-weight="normal" fill="#000" stroke="#000" stroke-width="0.16" >Annexin V</text>
<line x1="18.2" y1="480.6" x2="18.2" y2="444.5" stroke="#000" stroke-width="1.4" />
<polygon points="18.2,441.0 16.0,445.8 20.4,445.8" fill="#000"/>
<line x1="30" y1="492.4" x2="64.8" y2="492.4" stroke="#000" stroke-width="1.4" />
<polygon points="68.2,492.4 63.4,490.2 63.4,494.6" fill="#000"/>
<defs>
<radialGradient id="den"><stop offset="0" stop-color="#000" stop-opacity="1"/><stop offset="0.45" stop-color="#000" stop-opacity="0.92"/><stop offset="0.75" stop-color="#000" stop-opacity="0.45"/><stop offset="1" stop-color="#000" stop-opacity="0"/></radialGradient>
<radialGradient id="den2"><stop offset="0" stop-color="#000" stop-opacity="0.75"/><stop offset="0.55" stop-color="#000" stop-opacity="0.4"/><stop offset="1" stop-color="#000" stop-opacity="0"/></radialGradient>
<radialGradient id="den3"><stop offset="0" stop-color="#000" stop-opacity="0.5"/><stop offset="0.6" stop-color="#000" stop-opacity="0.22"/><stop offset="1" stop-color="#000" stop-opacity="0"/></radialGradient>
<radialGradient id="den4"><stop offset="0" stop-color="#000" stop-opacity="0.25"/><stop offset="0.6" stop-color="#000" stop-opacity="0.12"/><stop offset="1" stop-color="#000" stop-opacity="0"/></radialGradient>
<filter id="grain" x="-5%" y="-5%" width="110%" height="110%"><feTurbulence type="fractalNoise" baseFrequency="1.3" numOctaves="2" seed="11" result="n"/><feColorMatrix in="n" type="matrix" values="0 0 0 0 0  0 0 0 0 0  0 0 0 0 0  0 0 0 2.4 -0.45" result="na"/><feComposite in="SourceGraphic" in2="na" operator="in" result="g"/><feGaussianBlur in="g" stdDeviation="0.3"/></filter>
</defs>
<clipPath id="fc1"><rect x="27.9" y="350.9" width="54.6" height="57"/></clipPath>
<g clip-path="url(#fc1)">
<g filter="url(#grain)">
<ellipse cx="44.5" cy="396.8" rx="14" ry="9.5" fill="url(#den3)" transform="rotate(0 44.5 396.8)"/>
<ellipse cx="45" cy="396.6" rx="9" ry="7.5" fill="url(#den2)" transform="rotate(0 45 396.6)"/>
</g>
<ellipse cx="45.2" cy="396.2" rx="4.5" ry="5.8" fill="url(#den)" transform="rotate(0 45.2 396.2)"/>
<ellipse cx="45.6" cy="399.8" rx="3" ry="5" fill="url(#den2)" transform="rotate(0 45.6 399.8)"/>
</g>
<rect x="27.9" y="350.9" width="54.6" height="57" fill="none" stroke="#4a4ae6" stroke-width="0.9"/>
<line x1="55.4" y1="350.9" x2="55.4" y2="407.9" stroke="#c8283c" stroke-width="0.7" />
<line x1="27.9" y1="385.3" x2="82.5" y2="385.3" stroke="#c8283c" stroke-width="0.7" />
<line x1="27.2" y1="351.4" x2="27.2" y2="407.9" stroke="#2222cc" stroke-width="1.5" stroke-dasharray="1.5 0.7"/>
<line x1="27.9" y1="408.6" x2="81.5" y2="408.6" stroke="#2222cc" stroke-width="1.2" stroke-dasharray="1.4 0.8" opacity="0.85"/>
<line x1="23.1" y1="352.5" x2="25" y2="351.3" stroke="#2222cc" stroke-width="1.25" />
<line x1="23.1" y1="359.85" x2="25" y2="358.65" stroke="#2222cc" stroke-width="1.25" />
<line x1="23.1" y1="367.21" x2="25" y2="366.01" stroke="#2222cc" stroke-width="1.25" />
<line x1="23.1" y1="374.56" x2="25" y2="373.36" stroke="#2222cc" stroke-width="1.25" />
<line x1="23.1" y1="381.92" x2="25" y2="380.72" stroke="#2222cc" stroke-width="1.25" />
<line x1="23.1" y1="389.27" x2="25" y2="388.07" stroke="#2222cc" stroke-width="1.25" />
<line x1="23.1" y1="396.63" x2="25" y2="395.43" stroke="#2222cc" stroke-width="1.25" />
<line x1="23.1" y1="403.98" x2="25" y2="402.78" stroke="#2222cc" stroke-width="1.25" />
<line x1="27.2" y1="411.7" x2="28.8" y2="410.1" stroke="#2222cc" stroke-width="1.25" />
<line x1="34.68" y1="411.7" x2="36.28" y2="410.1" stroke="#2222cc" stroke-width="1.25" />
<line x1="42.16" y1="411.7" x2="43.76" y2="410.1" stroke="#2222cc" stroke-width="1.25" />
<line x1="49.64" y1="411.7" x2="51.24" y2="410.1" stroke="#2222cc" stroke-width="1.25" />
<line x1="57.12" y1="411.7" x2="58.72" y2="410.1" stroke="#2222cc" stroke-width="1.25" />
<line x1="64.6" y1="411.7" x2="66.2" y2="410.1" stroke="#2222cc" stroke-width="1.25" />
<line x1="72.08" y1="411.7" x2="73.68" y2="410.1" stroke="#2222cc" stroke-width="1.25" />
<line x1="79.56" y1="411.7" x2="81.16" y2="410.1" stroke="#2222cc" stroke-width="1.25" />
<text x="30.2" y="354.8" font-size="3.3" text-anchor="start" font-weight="normal" fill="#c8283c" stroke="#c8283c" stroke-width="0.1" >Q1-UL</text>
<text x="30.2" y="358.4" font-size="3.3" text-anchor="start" font-weight="normal" fill="#c8283c" stroke="#c8283c" stroke-width="0.1" >0.9%</text>
<text x="81.5" y="354.8" font-size="3.3" text-anchor="end" font-weight="normal" fill="#c8283c" stroke="#c8283c" stroke-width="0.1" >Q1-UR</text>
<text x="81.5" y="358.4" font-size="3.3" text-anchor="end" font-weight="normal" fill="#c8283c" stroke="#c8283c" stroke-width="0.1" >0.6%</text>
<text x="30.2" y="403.9" font-size="3.3" text-anchor="start" font-weight="normal" fill="#c8283c" stroke="#c8283c" stroke-width="0.1" >Q1-LL</text>
<text x="30.2" y="407.4" font-size="3.3" text-anchor="start" font-weight="normal" fill="#c8283c" stroke="#c8283c" stroke-width="0.1" >97.0%</text>
<text x="81.5" y="403.9" font-size="3.3" text-anchor="end" font-weight="normal" fill="#c8283c" stroke="#c8283c" stroke-width="0.1" >Q1-LR</text>
<text x="81.5" y="407.4" font-size="3.3" text-anchor="end" font-weight="normal" fill="#c8283c" stroke="#c8283c" stroke-width="0.1" >1.5%</text>
<clipPath id="fc2"><rect x="99.9" y="350.9" width="54" height="57.4"/></clipPath>
<g clip-path="url(#fc2)">
<g filter="url(#grain)">
<ellipse cx="116.5" cy="397.6" rx="13.5" ry="9" fill="url(#den3)" transform="rotate(0 116.5 397.6)"/>
<ellipse cx="117" cy="397.6" rx="10" ry="7.5" fill="url(#den2)" transform="rotate(0 117 397.6)"/>
</g>
<ellipse cx="117.3" cy="397.3" rx="5.2" ry="6.8" fill="url(#den)" transform="rotate(0 117.3 397.3)"/>
<ellipse cx="117.6" cy="400.5" rx="3.6" ry="5" fill="url(#den2)" transform="rotate(0 117.6 400.5)"/>
</g>
<rect x="99.9" y="350.9" width="54" height="57.4" fill="none" stroke="#4a4ae6" stroke-width="0.9"/>
<line x1="127.4" y1="350.9" x2="127.4" y2="408.3" stroke="#c8283c" stroke-width="0.7" />
<line x1="99.9" y1="386.3" x2="153.9" y2="386.3" stroke="#c8283c" stroke-width="0.7" />
<line x1="99.2" y1="351.4" x2="99.2" y2="408.3" stroke="#2222cc" stroke-width="1.5" stroke-dasharray="1.5 0.7"/>
<line x1="99.9" y1="409" x2="152.9" y2="409" stroke="#2222cc" stroke-width="1.2" stroke-dasharray="1.4 0.8" opacity="0.85"/>
<line x1="95.1" y1="352.5" x2="97" y2="351.3" stroke="#2222cc" stroke-width="1.25" />
<line x1="95.1" y1="359.91" x2="97" y2="358.71" stroke="#2222cc" stroke-width="1.25" />
<line x1="95.1" y1="367.31" x2="97" y2="366.11" stroke="#2222cc" stroke-width="1.25" />
<line x1="95.1" y1="374.72" x2="97" y2="373.52" stroke="#2222cc" stroke-width="1.25" />
<line x1="95.1" y1="382.13" x2="97" y2="380.93" stroke="#2222cc" stroke-width="1.25" />
<line x1="95.1" y1="389.53" x2="97" y2="388.33" stroke="#2222cc" stroke-width="1.25" />
<line x1="95.1" y1="396.94" x2="97" y2="395.74" stroke="#2222cc" stroke-width="1.25" />
<line x1="95.1" y1="404.35" x2="97" y2="403.15" stroke="#2222cc" stroke-width="1.25" />
<line x1="99.2" y1="412.1" x2="100.8" y2="410.5" stroke="#2222cc" stroke-width="1.25" />
<line x1="106.6" y1="412.1" x2="108.2" y2="410.5" stroke="#2222cc" stroke-width="1.25" />
<line x1="113.99" y1="412.1" x2="115.59" y2="410.5" stroke="#2222cc" stroke-width="1.25" />
<line x1="121.39" y1="412.1" x2="122.99" y2="410.5" stroke="#2222cc" stroke-width="1.25" />
<line x1="128.79" y1="412.1" x2="130.39" y2="410.5" stroke="#2222cc" stroke-width="1.25" />
<line x1="136.19" y1="412.1" x2="137.79" y2="410.5" stroke="#2222cc" stroke-width="1.25" />
<line x1="143.58" y1="412.1" x2="145.18" y2="410.5" stroke="#2222cc" stroke-width="1.25" />
<line x1="150.98" y1="412.1" x2="152.58" y2="410.5" stroke="#2222cc" stroke-width="1.25" />
<text x="102.2" y="354.8" font-size="3.3" text-anchor="start" font-weight="normal" fill="#c8283c" stroke="#c8283c" stroke-width="0.1" >Q1-UL</text>
<text x="102.2" y="358.4" font-size="3.3" text-anchor="start" font-weight="normal" fill="#c8283c" stroke="#c8283c" stroke-width="0.1" >0.9%</text>
<text x="152.9" y="354.8" font-size="3.3" text-anchor="end" font-weight="normal" fill="#c8283c" stroke="#c8283c" stroke-width="0.1" >Q1-UR</text>
<text x="152.9" y="358.4" font-size="3.3" text-anchor="end" font-weight="normal" fill="#c8283c" stroke="#c8283c" stroke-width="0.1" >0.6%</text>
<text x="102.2" y="404.3" font-size="3.3" text-anchor="start" font-weight="normal" fill="#c8283c" stroke="#c8283c" stroke-width="0.1" >Q1-LL</text>
<text x="102.2" y="407.8" font-size="3.3" text-anchor="start" font-weight="normal" fill="#c8283c" stroke="#c8283c" stroke-width="0.1" >96.7%</text>
<text x="152.9" y="404.3" font-size="3.3" text-anchor="end" font-weight="normal" fill="#c8283c" stroke="#c8283c" stroke-width="0.1" >Q1-LR</text>
<text x="152.9" y="407.8" font-size="3.3" text-anchor="end" font-weight="normal" fill="#c8283c" stroke="#c8283c" stroke-width="0.1" >1.8%</text>
<clipPath id="fc3"><rect x="27.9" y="422.9" width="54.6" height="57"/></clipPath>
<g clip-path="url(#fc3)">
<g filter="url(#grain)">
<ellipse cx="45.5" cy="465" rx="17" ry="10" fill="url(#den3)" transform="rotate(-50 45.5 465)"/>
<ellipse cx="45" cy="466.5" rx="12" ry="7.5" fill="url(#den2)" transform="rotate(-60 45 466.5)"/>
<ellipse cx="56" cy="454.5" rx="15" ry="5.5" fill="url(#den3)" transform="rotate(-36 56 454.5)"/>
<ellipse cx="57.5" cy="453.2" rx="12.5" ry="3.6" fill="url(#den2)" transform="rotate(-35 57.5 453.2)"/>
<ellipse cx="60.3" cy="439.2" rx="6" ry="2.6" fill="url(#den2)" transform="rotate(-18 60.3 439.2)"/>
<ellipse cx="59.5" cy="466" rx="9" ry="6" fill="url(#den4)" transform="rotate(-60 59.5 466)"/>
</g>
<ellipse cx="45.6" cy="467" rx="9.5" ry="3.8" fill="url(#den)" transform="rotate(-76 45.6 467)"/>
<ellipse cx="47" cy="462" rx="6.5" ry="2.4" fill="url(#den2)" transform="rotate(-62 47 462)"/>
<ellipse cx="57.5" cy="452.6" rx="9" ry="1.5" fill="url(#den2)" transform="rotate(-35 57.5 452.6)"/>
<ellipse cx="59.5" cy="454.5" rx="7" ry="1.3" fill="url(#den2)" transform="rotate(-36 59.5 454.5)"/>
<ellipse cx="60.3" cy="439.2" rx="3.4" ry="1.2" fill="url(#den2)" transform="rotate(-18 60.3 439.2)"/>
</g>
<rect x="27.9" y="422.9" width="54.6" height="57" fill="none" stroke="#4a4ae6" stroke-width="0.9"/>
<line x1="55.4" y1="422.9" x2="55.4" y2="479.9" stroke="#c8283c" stroke-width="0.7" />
<line x1="27.9" y1="457.9" x2="82.5" y2="457.9" stroke="#c8283c" stroke-width="0.7" />
<line x1="27.2" y1="423.4" x2="27.2" y2="479.9" stroke="#2222cc" stroke-width="1.5" stroke-dasharray="1.5 0.7"/>
<line x1="27.9" y1="480.6" x2="81.5" y2="480.6" stroke="#2222cc" stroke-width="1.2" stroke-dasharray="1.4 0.8" opacity="0.85"/>
<line x1="23.1" y1="424.5" x2="25" y2="423.3" stroke="#2222cc" stroke-width="1.25" />
<line x1="23.1" y1="431.85" x2="25" y2="430.65" stroke="#2222cc" stroke-width="1.25" />
<line x1="23.1" y1="439.21" x2="25" y2="438.01" stroke="#2222cc" stroke-width="1.25" />
<line x1="23.1" y1="446.56" x2="25" y2="445.36" stroke="#2222cc" stroke-width="1.25" />
<line x1="23.1" y1="453.92" x2="25" y2="452.72" stroke="#2222cc" stroke-width="1.25" />
<line x1="23.1" y1="461.27" x2="25" y2="460.07" stroke="#2222cc" stroke-width="1.25" />
<line x1="23.1" y1="468.63" x2="25" y2="467.43" stroke="#2222cc" stroke-width="1.25" />
<line x1="23.1" y1="475.98" x2="25" y2="474.78" stroke="#2222cc" stroke-width="1.25" />
<line x1="27.2" y1="483.7" x2="28.8" y2="482.1" stroke="#2222cc" stroke-width="1.25" />
<line x1="34.68" y1="483.7" x2="36.28" y2="482.1" stroke="#2222cc" stroke-width="1.25" />
<line x1="42.16" y1="483.7" x2="43.76" y2="482.1" stroke="#2222cc" stroke-width="1.25" />
<line x1="49.64" y1="483.7" x2="51.24" y2="482.1" stroke="#2222cc" stroke-width="1.25" />
<line x1="57.12" y1="483.7" x2="58.72" y2="482.1" stroke="#2222cc" stroke-width="1.25" />
<line x1="64.6" y1="483.7" x2="66.2" y2="482.1" stroke="#2222cc" stroke-width="1.25" />
<line x1="72.08" y1="483.7" x2="73.68" y2="482.1" stroke="#2222cc" stroke-width="1.25" />
<line x1="79.56" y1="483.7" x2="81.16" y2="482.1" stroke="#2222cc" stroke-width="1.25" />
<text x="30.2" y="426.8" font-size="3.3" text-anchor="start" font-weight="normal" fill="#c8283c" stroke="#c8283c" stroke-width="0.1" >Q1-UL</text>
<text x="30.2" y="430.4" font-size="3.3" text-anchor="start" font-weight="normal" fill="#c8283c" stroke="#c8283c" stroke-width="0.1" >1.3%</text>
<text x="81.5" y="426.8" font-size="3.3" text-anchor="end" font-weight="normal" fill="#c8283c" stroke="#c8283c" stroke-width="0.1" >Q1-UR</text>
<text x="81.5" y="430.4" font-size="3.3" text-anchor="end" font-weight="normal" fill="#c8283c" stroke="#c8283c" stroke-width="0.1" >12.0%</text>
<text x="30.2" y="475.9" font-size="3.3" text-anchor="start" font-weight="normal" fill="#c8283c" stroke="#c8283c" stroke-width="0.1" >Q1-LL</text>
<text x="30.2" y="479.4" font-size="3.3" text-anchor="start" font-weight="normal" fill="#c8283c" stroke="#c8283c" stroke-width="0.1" >75.1%</text>
<text x="81.5" y="475.9" font-size="3.3" text-anchor="end" font-weight="normal" fill="#c8283c" stroke="#c8283c" stroke-width="0.1" >Q1-LR</text>
<text x="81.5" y="479.4" font-size="3.3" text-anchor="end" font-weight="normal" fill="#c8283c" stroke="#c8283c" stroke-width="0.1" >11.6%</text>
<clipPath id="fc4"><rect x="99.9" y="422.9" width="54" height="57.4"/></clipPath>
<g clip-path="url(#fc4)">
<g filter="url(#grain)">
<ellipse cx="118" cy="464.5" rx="17" ry="10" fill="url(#den3)" transform="rotate(-52 118 464.5)"/>
<ellipse cx="117.5" cy="466" rx="12.5" ry="8" fill="url(#den2)" transform="rotate(-62 117.5 466)"/>
<ellipse cx="128" cy="454.5" rx="14.5" ry="5.6" fill="url(#den3)" transform="rotate(-42 128 454.5)"/>
<ellipse cx="129.5" cy="453" rx="12" ry="3.8" fill="url(#den2)" transform="rotate(-42 129.5 453)"/>
<ellipse cx="131.3" cy="438.7" rx="6.5" ry="2.8" fill="url(#den2)" transform="rotate(-12 131.3 438.7)"/>
<ellipse cx="131.5" cy="466" rx="8" ry="6" fill="url(#den4)" transform="rotate(-65 131.5 466)"/>
</g>
<ellipse cx="117.8" cy="466.8" rx="10" ry="4.6" fill="url(#den)" transform="rotate(-76 117.8 466.8)"/>
<ellipse cx="119.8" cy="460.5" rx="7" ry="2.8" fill="url(#den2)" transform="rotate(-60 119.8 460.5)"/>
<ellipse cx="130.5" cy="451.8" rx="8" ry="1.6" fill="url(#den2)" transform="rotate(-42 130.5 451.8)"/>
<ellipse cx="131.3" cy="438.7" rx="3.8" ry="1.3" fill="url(#den2)" transform="rotate(-12 131.3 438.7)"/>
</g>
<rect x="99.9" y="422.9" width="54" height="57.4" fill="none" stroke="#4a4ae6" stroke-width="0.9"/>
<line x1="127.4" y1="422.9" x2="127.4" y2="480.3" stroke="#c8283c" stroke-width="0.7" />
<line x1="99.9" y1="458.3" x2="153.9" y2="458.3" stroke="#c8283c" stroke-width="0.7" />
<line x1="99.2" y1="423.4" x2="99.2" y2="480.3" stroke="#2222cc" stroke-width="1.5" stroke-dasharray="1.5 0.7"/>
<line x1="99.9" y1="481" x2="152.9" y2="481" stroke="#2222cc" stroke-width="1.2" stroke-dasharray="1.4 0.8" opacity="0.85"/>
<line x1="95.1" y1="424.5" x2="97" y2="423.3" stroke="#2222cc" stroke-width="1.25" />
<line x1="95.1" y1="431.91" x2="97" y2="430.71" stroke="#2222cc" stroke-width="1.25" />
<line x1="95.1" y1="439.31" x2="97" y2="438.11" stroke="#2222cc" stroke-width="1.25" />
<line x1="95.1" y1="446.72" x2="97" y2="445.52" stroke="#2222cc" stroke-width="1.25" />
<line x1="95.1" y1="454.13" x2="97" y2="452.93" stroke="#2222cc" stroke-width="1.25" />
<line x1="95.1" y1="461.53" x2="97" y2="460.33" stroke="#2222cc" stroke-width="1.25" />
<line x1="95.1" y1="468.94" x2="97" y2="467.74" stroke="#2222cc" stroke-width="1.25" />
<line x1="95.1" y1="476.35" x2="97" y2="475.15" stroke="#2222cc" stroke-width="1.25" />
<line x1="99.2" y1="484.1" x2="100.8" y2="482.5" stroke="#2222cc" stroke-width="1.25" />
<line x1="106.6" y1="484.1" x2="108.2" y2="482.5" stroke="#2222cc" stroke-width="1.25" />
<line x1="113.99" y1="484.1" x2="115.59" y2="482.5" stroke="#2222cc" stroke-width="1.25" />
<line x1="121.39" y1="484.1" x2="122.99" y2="482.5" stroke="#2222cc" stroke-width="1.25" />
<line x1="128.79" y1="484.1" x2="130.39" y2="482.5" stroke="#2222cc" stroke-width="1.25" />
<line x1="136.19" y1="484.1" x2="137.79" y2="482.5" stroke="#2222cc" stroke-width="1.25" />
<line x1="143.58" y1="484.1" x2="145.18" y2="482.5" stroke="#2222cc" stroke-width="1.25" />
<line x1="150.98" y1="484.1" x2="152.58" y2="482.5" stroke="#2222cc" stroke-width="1.25" />
<text x="102.2" y="426.8" font-size="3.3" text-anchor="start" font-weight="normal" fill="#c8283c" stroke="#c8283c" stroke-width="0.1" >Q1-UL</text>
<text x="102.2" y="430.4" font-size="3.3" text-anchor="start" font-weight="normal" fill="#c8283c" stroke="#c8283c" stroke-width="0.1" >1.0%</text>
<text x="152.9" y="426.8" font-size="3.3" text-anchor="end" font-weight="normal" fill="#c8283c" stroke="#c8283c" stroke-width="0.1" >Q1-UR</text>
<text x="152.9" y="430.4" font-size="3.3" text-anchor="end" font-weight="normal" fill="#c8283c" stroke="#c8283c" stroke-width="0.1" >12.6%</text>
<text x="102.2" y="476.3" font-size="3.3" text-anchor="start" font-weight="normal" fill="#c8283c" stroke="#c8283c" stroke-width="0.1" >Q1-LL</text>
<text x="102.2" y="479.8" font-size="3.3" text-anchor="start" font-weight="normal" fill="#c8283c" stroke="#c8283c" stroke-width="0.1" >73.4%</text>
<text x="152.9" y="476.3" font-size="3.3" text-anchor="end" font-weight="normal" fill="#c8283c" stroke="#c8283c" stroke-width="0.1" >Q1-LR</text>
<text x="152.9" y="479.8" font-size="3.3" text-anchor="end" font-weight="normal" fill="#c8283c" stroke="#c8283c" stroke-width="0.1" >13.0%</text>
<line x1="194.4" y1="351.05" x2="194.4" y2="441.25" stroke="#000" stroke-width="1.35" />
<line x1="193.8" y1="440.6" x2="249.5" y2="440.6" stroke="#000" stroke-width="1.35" />
<line x1="191.8" y1="440.6" x2="194.4" y2="440.6" stroke="#000" stroke-width="1.2" />
<text x="190.4" y="442.55" font-size="5.5" text-anchor="end" font-weight="bold" fill="#000" stroke="#000" stroke-width="0.22" >0</text>
<line x1="191.8" y1="410.95" x2="194.4" y2="410.95" stroke="#000" stroke-width="1.2" />
<text x="190.4" y="412.9" font-size="5.5" text-anchor="end" font-weight="bold" fill="#000" stroke="#000" stroke-width="0.22" >10</text>
<line x1="191.8" y1="381.3" x2="194.4" y2="381.3" stroke="#000" stroke-width="1.2" />
<text x="190.4" y="383.25" font-size="5.5" text-anchor="end" font-weight="bold" fill="#000" stroke="#000" stroke-width="0.22" >20</text>
<line x1="191.8" y1="351.65" x2="194.4" y2="351.65" stroke="#000" stroke-width="1.2" />
<text x="190.4" y="353.6" font-size="5.5" text-anchor="end" font-weight="bold" fill="#000" stroke="#000" stroke-width="0.22" >30</text>
<rect x="199.4" y="436.3" width="19.1" height="4.3" fill="#fff" stroke="#000" stroke-width="1.2"/>
<line x1="208.95" y1="435.25" x2="208.95" y2="437.35" stroke="#000" stroke-width="1.1" />
<line x1="204.35" y1="435.25" x2="213.55" y2="435.25" stroke="#000" stroke-width="1.1" />
<line x1="204.35" y1="437.35" x2="213.55" y2="437.35" stroke="#000" stroke-width="1.1" />
<line x1="208.95" y1="440.6" x2="208.95" y2="443.4" stroke="#000" stroke-width="1.2" />
<line x1="236.7" y1="365.81" x2="236.7" y2="371.81" stroke="#000" stroke-width="1.1" />
<line x1="232.1" y1="365.81" x2="241.3" y2="365.81" stroke="#000" stroke-width="1.1" />
<rect x="227.4" y="371.81" width="18.6" height="68.79" fill="#000"/>
<line x1="236.7" y1="440.6" x2="236.7" y2="443.4" stroke="#000" stroke-width="1.2" />
<text x="236.7" y="365.61" font-size="5.5" text-anchor="middle" font-weight="bold" fill="#000" stroke="#000" stroke-width="0.22" >**</text>
<text x="219.2" y="340.3" font-size="5.7" text-anchor="middle" font-weight="bold" fill="#000" stroke="#000" stroke-width="0.22" >SMMC-7721</text>
<text x="180.8" y="395.8" font-size="5.9" text-anchor="middle" font-weight="bold" fill="#000" stroke="#000" stroke-width="0.22" transform="rotate(-90 180.8 395.8)" textLength="56.3" lengthAdjust="spacingAndGlyphs">Apoptotic cells (%)</text>
<text x="210.9" y="450.7" font-size="5.8" text-anchor="end" font-weight="normal" fill="#000" stroke="#000" stroke-width="0.16" transform="rotate(-45 210.9 450.7)" >miR-NC</text>
<text x="238.2" y="450.7" font-size="6" text-anchor="end" font-weight="normal" fill="#000" stroke="#000" stroke-width="0.16" transform="rotate(-45 238.2 450.7)" >miR-500a inhibitor</text>
<line x1="285.3" y1="351.05" x2="285.3" y2="441.25" stroke="#000" stroke-width="1.35" />
<line x1="284.7" y1="440.6" x2="340" y2="440.6" stroke="#000" stroke-width="1.35" />
<line x1="282.7" y1="440.6" x2="285.3" y2="440.6" stroke="#000" stroke-width="1.2" />
<text x="281.3" y="442.55" font-size="5.5" text-anchor="end" font-weight="bold" fill="#000" stroke="#000" stroke-width="0.22" >0</text>
<line x1="282.7" y1="410.95" x2="285.3" y2="410.95" stroke="#000" stroke-width="1.2" />
<text x="281.3" y="412.9" font-size="5.5" text-anchor="end" font-weight="bold" fill="#000" stroke="#000" stroke-width="0.22" >10</text>
<line x1="282.7" y1="381.3" x2="285.3" y2="381.3" stroke="#000" stroke-width="1.2" />
<text x="281.3" y="383.25" font-size="5.5" text-anchor="end" font-weight="bold" fill="#000" stroke="#000" stroke-width="0.22" >20</text>
<line x1="282.7" y1="351.65" x2="285.3" y2="351.65" stroke="#000" stroke-width="1.2" />
<text x="281.3" y="353.6" font-size="5.5" text-anchor="end" font-weight="bold" fill="#000" stroke="#000" stroke-width="0.22" >30</text>
<rect x="290.6" y="435.11" width="18.7" height="5.49" fill="#fff" stroke="#000" stroke-width="1.2"/>
<line x1="299.95" y1="434.01" x2="299.95" y2="436.21" stroke="#000" stroke-width="1.1" />
<line x1="295.35" y1="434.01" x2="304.55" y2="434.01" stroke="#000" stroke-width="1.1" />
<line x1="295.35" y1="436.21" x2="304.55" y2="436.21" stroke="#000" stroke-width="1.1" />
<line x1="299.95" y1="440.6" x2="299.95" y2="443.4" stroke="#000" stroke-width="1.2" />
<line x1="327.8" y1="356.14" x2="327.8" y2="361.14" stroke="#000" stroke-width="1.1" />
<line x1="323.2" y1="356.14" x2="332.4" y2="356.14" stroke="#000" stroke-width="1.1" />
<rect x="318.2" y="361.14" width="19.2" height="79.46" fill="#000"/>
<line x1="327.8" y1="440.6" x2="327.8" y2="443.4" stroke="#000" stroke-width="1.2" />
<text x="327.8" y="355.94" font-size="5.5" text-anchor="middle" font-weight="bold" fill="#000" stroke="#000" stroke-width="0.22" >**</text>
<text x="309.7" y="340.3" font-size="5.7" text-anchor="middle" font-weight="bold" fill="#000" stroke="#000" stroke-width="0.22" >HepG2</text>
<text x="271.2" y="395.8" font-size="5.9" text-anchor="middle" font-weight="bold" fill="#000" stroke="#000" stroke-width="0.22" transform="rotate(-90 271.2 395.8)" textLength="56.3" lengthAdjust="spacingAndGlyphs">Apoptotic cells (%)</text>
<text x="302.2" y="450.7" font-size="5.8" text-anchor="end" font-weight="normal" fill="#000" stroke="#000" stroke-width="0.16" transform="rotate(-45 302.2 450.7)" >miR-NC</text>
<text x="328.8" y="450.7" font-size="6" text-anchor="end" font-weight="normal" fill="#000" stroke="#000" stroke-width="0.16" transform="rotate(-45 328.8 450.7)" >miR-500a inhibitor</text>
</svg>
</body>
</html>
